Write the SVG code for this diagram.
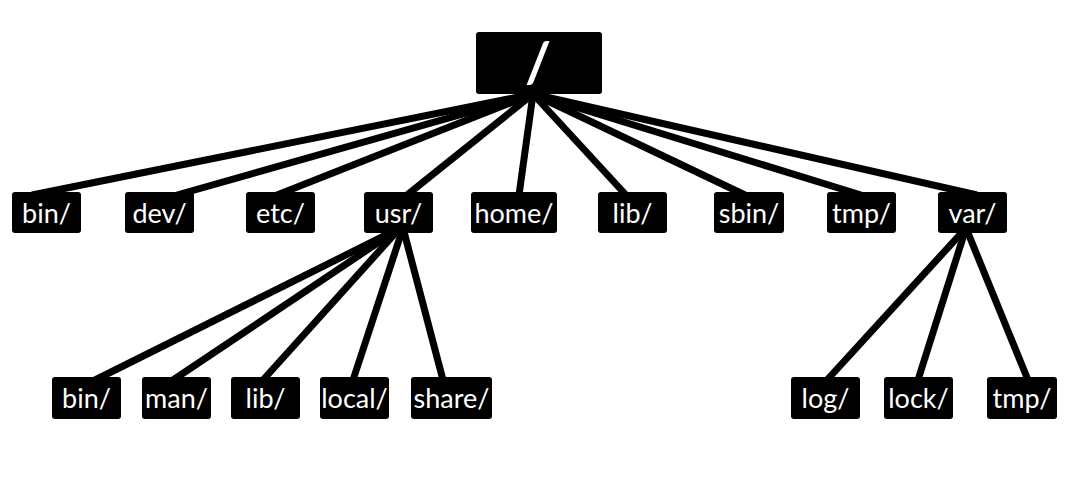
<svg xmlns="http://www.w3.org/2000/svg" width="1068" height="492" viewBox="0 0 1068 492">
<style>
.box{fill:#000;}
.lbl{font-family:Lato,"Open Sans","Liberation Sans",sans-serif;font-size:27px;fill:#fff;text-anchor:middle;}
.root{font-family:Lato,"Open Sans","Liberation Sans",sans-serif;font-size:56px;font-weight:bold;fill:#fff;text-anchor:middle;}
.edge{stroke:#000;stroke-width:7;fill:none;stroke-linecap:butt;}
</style>
<rect width="1068" height="492" fill="#fff"/>
<g id="connectors">
<line class="edge" x1="533" y1="94" x2="32" y2="195"/>
<line class="edge" x1="533" y1="94" x2="177" y2="195"/>
<line class="edge" x1="533" y1="94" x2="277" y2="195"/>
<line class="edge" x1="533" y1="94" x2="407" y2="195"/>
<line class="edge" x1="533" y1="94" x2="519" y2="195"/>
<line class="edge" x1="533" y1="94" x2="626" y2="195"/>
<line class="edge" x1="533" y1="94" x2="745" y2="195"/>
<line class="edge" x1="533" y1="94" x2="861" y2="195"/>
<line class="edge" x1="533" y1="94" x2="977" y2="195"/>
<line class="edge" x1="400" y1="228" x2="95" y2="380"/>
<line class="edge" x1="400" y1="228" x2="173" y2="380"/>
<line class="edge" x1="400" y1="228" x2="263" y2="380"/>
<line class="edge" x1="403" y1="228" x2="353" y2="380"/>
<line class="edge" x1="403" y1="228" x2="443" y2="380"/>
<line class="edge" x1="966" y1="228" x2="827" y2="380"/>
<line class="edge" x1="966" y1="228" x2="918" y2="380"/>
<line class="edge" x1="966" y1="228" x2="1028" y2="380"/>
</g>
<g id="node-root"><rect class="box" x="476" y="32" width="126" height="62" rx="3"/><text class="root" x="538" y="82">/</text></g>
<g id="node-bin"><rect class="box" x="12" y="192" width="69" height="41" rx="3"/><text class="lbl" x="46.5" y="223">bin/</text></g>
<g id="node-dev"><rect class="box" x="125" y="192" width="69" height="41" rx="3"/><text class="lbl" x="159.5" y="223">dev/</text></g>
<g id="node-etc"><rect class="box" x="246" y="192" width="69" height="41" rx="3"/><text class="lbl" x="280.5" y="223">etc/</text></g>
<g id="node-usr"><rect class="box" x="364" y="192" width="69" height="41" rx="3"/><text class="lbl" x="398.5" y="223">usr/</text></g>
<g id="node-home"><rect class="box" x="471" y="192" width="86" height="41" rx="3"/><text class="lbl" x="514" y="223">home/</text></g>
<g id="node-lib"><rect class="box" x="598" y="192" width="69" height="41" rx="3"/><text class="lbl" x="632.5" y="223">lib/</text></g>
<g id="node-sbin"><rect class="box" x="714" y="192" width="70" height="41" rx="3"/><text class="lbl" x="749" y="223">sbin/</text></g>
<g id="node-tmp"><rect class="box" x="827" y="192" width="69" height="41" rx="3"/><text class="lbl" x="861.5" y="223">tmp/</text></g>
<g id="node-var"><rect class="box" x="938" y="192" width="69" height="41" rx="3"/><text class="lbl" x="972.5" y="223">var/</text></g>
<g id="node-usr-bin"><rect class="box" x="52" y="377" width="69" height="42" rx="3"/><text class="lbl" x="86.5" y="408">bin/</text></g>
<g id="node-usr-man"><rect class="box" x="142" y="377" width="69" height="42" rx="3"/><text class="lbl" x="176.5" y="408">man/</text></g>
<g id="node-usr-lib"><rect class="box" x="231" y="377" width="69" height="42" rx="3"/><text class="lbl" x="265.5" y="408">lib/</text></g>
<g id="node-usr-local"><rect class="box" x="320" y="377" width="69" height="42" rx="3"/><text class="lbl" x="354.5" y="408">local/</text></g>
<g id="node-usr-share"><rect class="box" x="411" y="377" width="81" height="42" rx="3"/><text class="lbl" x="451.5" y="408">share/</text></g>
<g id="node-var-log"><rect class="box" x="791" y="377" width="69" height="42" rx="3"/><text class="lbl" x="825.5" y="408">log/</text></g>
<g id="node-var-lock"><rect class="box" x="884" y="377" width="69" height="42" rx="3"/><text class="lbl" x="918.5" y="408">lock/</text></g>
<g id="node-var-tmp"><rect class="box" x="987" y="377" width="70" height="42" rx="3"/><text class="lbl" x="1022" y="408">tmp/</text></g>
</svg>
